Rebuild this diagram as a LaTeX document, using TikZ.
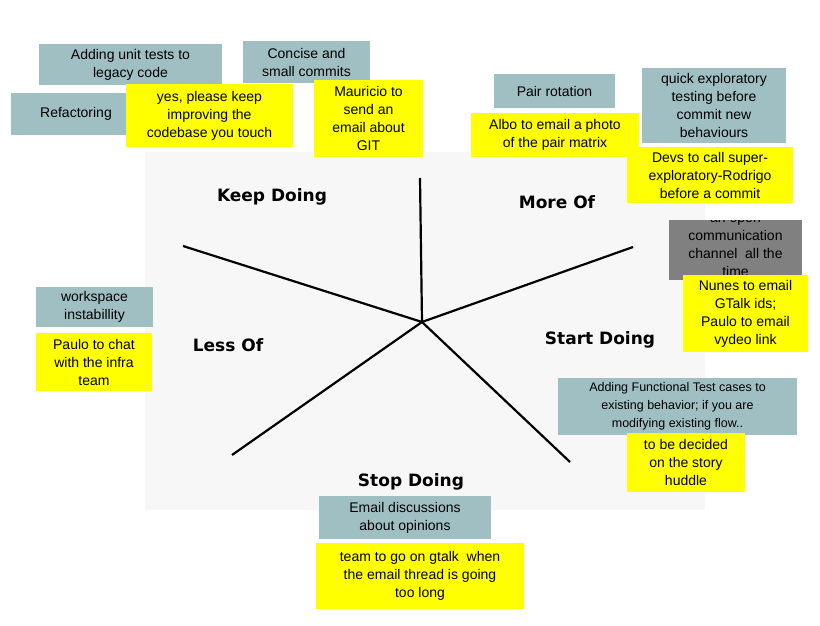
\documentclass[tikz,border=0pt]{standalone}
\usepackage{fontspec}
\setmainfont{Liberation Sans}
\newfontfamily\labfont{DejaVu Sans}
\definecolor{gbox}{HTML}{9FBFC3}
\definecolor{ybox}{HTML}{FFFF00}
\definecolor{dbox}{HTML}{808080}
\begin{document}
\begin{tikzpicture}[x=1pt,y=-1pt,
  note/.style={inner sep=0pt,align=center,font=\fontsize{14}{18}\selectfont},
  lab/.style={font=\labfont\bfseries\fontsize{17}{20}\selectfont},
  spoke/.style={line width=2.2pt,black}]
\useasboundingbox (0,0) rectangle (820,626);
\fill[white] (0,0) rectangle (820,626);
\fill[black!3] (145,152) rectangle (705,510);
\coordinate (c) at (422,322);
\coordinate (t) at (420,178);
\coordinate (ul) at (183,246);
\coordinate (ur) at (633,247);
\coordinate (ll) at (232,455);
\coordinate (lr) at (570,462);
\foreach \p in {t,ul,ur,ll,lr} \draw[spoke] (c) -- (\p);
\node[lab] (kd) at (272,197) {Keep Doing};
\node[lab] (mo) at (557,202) {More Of};
\node[lab] (lo) at (228,345) {Less Of};
\node[lab] (sd) at (600,340) {Start Doing};
\node[lab] (st) at (411,482) {Stop Doing};
% boxes: fill rect then text
\newcommand{\nbox}[7]{\fill[#1] (#2,#3) rectangle (#4,#5);
  \node[note,#7] (#6) at ({(#2+#4)/2},{(#3+#5)/2}) {#6text};}
\fill[gbox] (39,44) rectangle (222,85);
\node[note] (n1) at (130.5,64.5) {Adding unit tests to\\legacy code};
\fill[gbox] (243,41) rectangle (370,83);
\node[note] (n2) at (306.5,62) {Concise and\\small commits};
\fill[gbox] (11,93) rectangle (141,135);
\node[note] (n3) at (76,114) {Refactoring};
\fill[ybox] (126,84) rectangle (293,147);
\node[note] (n4) at (209.5,116) {yes, please keep\\improving the\\codebase you touch};
\fill[ybox] (314,80) rectangle (423,157);
\node[note] (n5) at (368.5,118.5) {Mauricio to\\send an\\email about\\GIT};
\fill[gbox] (494,74) rectangle (615,108);
\node[note] (n6) at (554.5,91) {Pair rotation};
\fill[gbox] (642,68) rectangle (786,143);
\node[note] (n7) at (714,105.5) {quick exploratory\\testing before\\commit new\\behaviours};
\fill[ybox] (471,113) rectangle (639,157);
\node[note] (n8) at (555,135) {Albo to email a photo\\of the pair matrix};
\fill[ybox] (627,147) rectangle (793,203);
\node[note] (n9) at (710,175) {Devs to call super-\\exploratory-Rodrigo\\before a commit};
\begin{scope}
\clip (669,220) rectangle (802,280);
\fill[dbox] (669,220) rectangle (802,280);
\node[note,anchor=north] (n10) at (735.5,215) {an open\\communication\\channel\ \ all the\\time};
\end{scope}
\fill[ybox] (683,275) rectangle (808,352);
\node[note] (n11) at (745.5,313.5) {Nunes to email\\GTalk ids;\\Paulo to email\\vydeo link};
\fill[gbox] (36,287) rectangle (153,327);
\node[note] (n12) at (94.5,307) {workspace\\instabillity};
\fill[ybox] (36,333) rectangle (152,391);
\node[note] (n13) at (94,362) {Paulo to chat\\with the infra\\team};
\fill[gbox] (558,378) rectangle (797,435);
\node[note,font=\fontsize{12.5}{18}\selectfont] (n14) at (677.5,406.5) {Adding Functional Test cases to\\existing behavior; if you are\\modifying existing flow..};
\fill[ybox] (627,433) rectangle (745,492);
\node[note] (n15) at (686,462.5) {to be decided\\on the story\\huddle};
\fill[gbox] (319,496) rectangle (491,539);
\node[note] (n16) at (405,517.5) {Email discussions\\about opinions};
\fill[ybox] (316,543) rectangle (524,609);
\node[note] (n17) at (420,576) {team to go on gtalk\ \ when\\the email thread is going\\too long};
\end{tikzpicture}
\end{document}
